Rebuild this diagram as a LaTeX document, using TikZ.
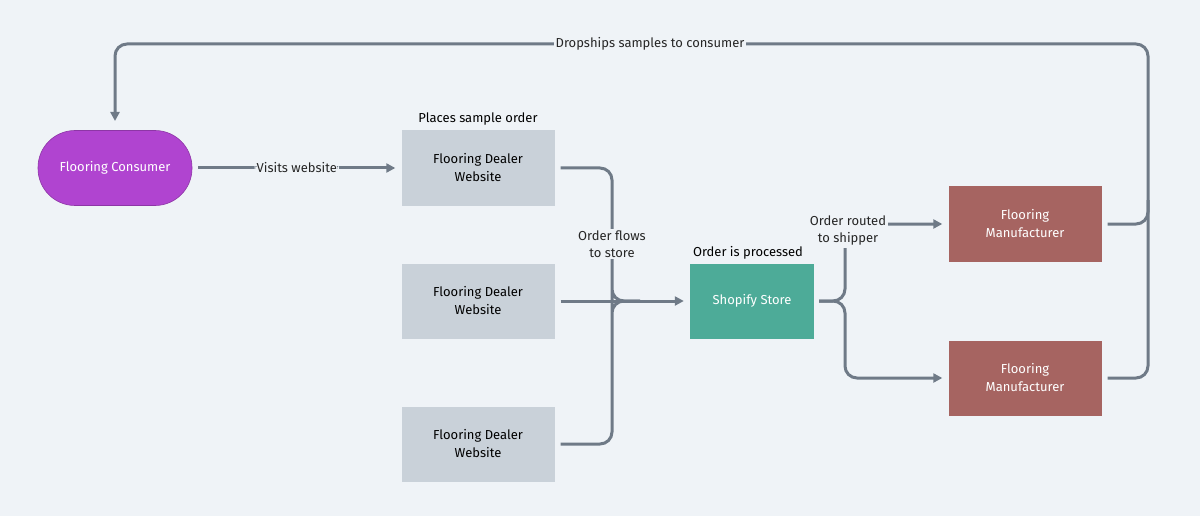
\documentclass[tikz,border=0pt]{standalone}
\usepackage{fontspec}
\setmainfont{Fira Sans}
\usetikzlibrary{arrows.meta}
\definecolor{bg}{HTML}{EFF3F7}
\definecolor{ln}{HTML}{6F7A87}
\definecolor{cons}{HTML}{B044D0}
\definecolor{deal}{HTML}{C9D1D9}
\definecolor{shop}{HTML}{4DAB98}
\definecolor{manu}{HTML}{A66461}
\begin{document}
\begin{tikzpicture}[x=1pt,y=-1pt,
  box/.style={minimum width=153pt,minimum height=75pt,align=center,font=\fontsize{13}{18}\selectfont,inner sep=0pt},
  conn/.style={draw=ln,line width=3pt,rounded corners=12pt,-{Triangle[length=9pt,width=9pt]}},
  seg/.style={draw=ln,line width=3pt,rounded corners=12pt},
  lab/.style={fill=bg,font=\fontsize{13}{17}\selectfont,align=center,inner sep=2pt,text=black!85}]
\fill[bg] (0,0) rectangle (1200,516);
\useasboundingbox (0,0) rectangle (1200,516);
\node[box,fill=cons,text=white,rounded corners=37pt,minimum width=154pt,draw=cons!80!black,line width=0.6pt] (c) at (115,168) {Flooring Consumer};
\node[box,fill=deal] (d1) at (478,168) {Flooring Dealer\\Website};
\node[box,fill=deal] (d2) at (478,301) {Flooring Dealer\\Website};
\node[box,fill=deal] (d3) at (478,444) {Flooring Dealer\\Website};
\node[box,fill=shop,text=white,minimum width=124pt] (s) at (752,301) {Shopify Store};
\node[box,fill=manu,text=white] (m1) at (1025,224) {Flooring\\Manufacturer};
\node[box,fill=manu,text=white] (m2) at (1025,378) {Flooring\\Manufacturer};
\coordinate (tl) at (115,44);
\coordinate (tr) at (1148,44);
\coordinate (ce) at (115,121);
\draw[conn] ([xshift=6pt]c.east) -- ([xshift=-6pt]d1.west) node[lab,midway] {Visits website};
\draw[seg] ([xshift=6pt]d1.east) -| (612,290) |- (640,301);
\draw[seg] ([xshift=6pt]d3.east) -| (612,312) |- (640,301);
\draw[conn] ([xshift=6pt]d2.east) -- ([xshift=-6pt]s.west);
\draw[conn] ([xshift=5pt]s.east) -| (845,260) |- ([xshift=-6pt]m1.west);
\draw[conn] ([xshift=5pt]s.east) -| (845,340) |- ([xshift=-6pt]m2.west);
\draw[seg] ([xshift=6pt]m2.east) -| (1148,200);
\draw[conn] ([xshift=6pt]m1.east) -| (tr) -- (tl) -- (ce);
\node[lab] at (650,44) {Dropships samples to consumer};
\node[lab] at (612,244) {Order flows\\to store};
\node[lab] at (848,231) {Order routed\\to shipper};
\node[font=\fontsize{13}{16}\selectfont] at (478,119) {Places sample order};
\node[font=\fontsize{13}{16}\selectfont] at (748,253) {Order is processed};
\end{tikzpicture}
\end{document}
